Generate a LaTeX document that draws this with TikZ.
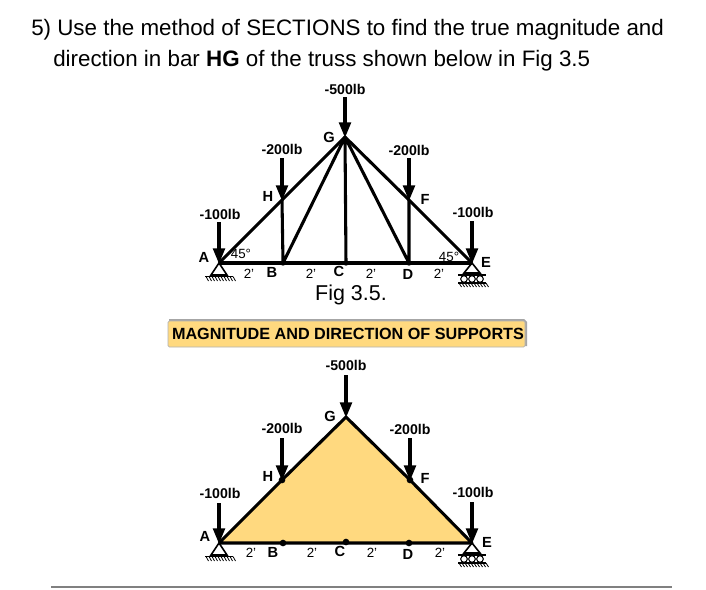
\documentclass[tikz,border=0pt]{standalone}
\usepackage{fontspec}
\setmainfont{Liberation Sans}
\usetikzlibrary{arrows.meta}
\definecolor{panel}{HTML}{FFD97F}
\tikzset{
  x=0.75pt,y=-0.75pt,
  bar/.style={line width=2.3pt,black,line join=round},
  load/.style={line width=3pt,black,-{Triangle[length=12pt,width=8.5pt]},shorten >=-1pt},
  loadlab/.style={font=\bfseries\fontsize{10.6}{12}\selectfont,inner sep=0pt},
  joint/.style={font=\bfseries\fontsize{11}{12}\selectfont,inner sep=0pt},
  dim/.style={font=\fontsize{10}{11}\selectfont,inner sep=0pt},
  pin/.style={circle,fill=black,inner sep=0pt,minimum size=5pt},
  title/.style={font=\fontsize{16.77}{20}\selectfont,inner sep=0pt,anchor=base west},
  sup/.style={line width=1.2pt,black},
  hatchline/.style={line width=0.6pt,black},
  pics/fixedsup/.style={code={
    \draw[sup] (0,0) -- (-8,12) -- (8,12) -- cycle;
    \draw[line width=1.2pt] (-14,13.5) -- (14,13.5);
    \foreach \i in {-13,-10,...,14} \draw[hatchline] (\i,13.5) -- (\i+2.5,18);
  }},
  pics/rollersup/.style={code={
    \draw[sup] (0,0) -- (-8,10) -- (8,10) -- cycle;
    \draw[line width=1.2pt] (-14,12) -- (14,12);
    \foreach \i in {-8,0,8} \draw[line width=.8pt] (\i,16) circle (3.3);
    \draw[line width=1.2pt] (-14,20) -- (14,20);
    \foreach \i in {-13,-10,...,14} \draw[hatchline] (\i,20) -- (\i+2.5,24);
  }}
}
\begin{document}
\begin{tikzpicture}
\useasboundingbox (0,0) rectangle (706,589);
\fill[white] (0,0) rectangle (706,589);
% title
\node[title] (t1) at (31,36) {5) Use the method of SECTIONS to find the true magnitude and};
\node[title] (t2) at (53,66) {direction in bar \textbf{HG} of the truss shown below in Fig 3.5};
% upper truss
\coordinate (A) at (219,263);
\coordinate (E) at (472,263);
\node[pin,minimum size=4pt] (B) at (283,263) {};
\node[pin,minimum size=4pt] (C) at (346,263) {};
\node[pin,minimum size=4pt] (D) at (409,263) {};
\coordinate (G) at (345,137);
\coordinate (H) at (282,200);
\coordinate (F) at (409,200);
\draw[bar] (A) -- (B.center) -- (C.center) -- (D.center) -- (E);
\draw[bar] (A) -- (H) -- (G) -- (F) -- (E);
\draw[bar] (H) -- (B.center) -- (G) -- (C.center) (G) -- (D.center) -- (F);
\pic at (A) {fixedsup};
\pic at (E) {rollersup};
\coordinate (l5) at (345,97);
\coordinate (l2a) at (282,158);
\coordinate (l2b) at (409,158);
\coordinate (l1a) at (219,222);
\coordinate (l1b) at (472,221);
\draw[load] (l5) -- (G);
\draw[load] (l2a) -- (H);
\draw[load] (l2b) -- (F);
\draw[load] (l1a) -- (A);
\draw[load] (l1b) -- (E);
\node[loadlab] (n5) at (345,89) {-500lb};
\node[loadlab] (n2a) at (282,149) {-200lb};
\node[loadlab] (n2b) at (409,150) {-200lb};
\node[loadlab] (n1a) at (220,214) {-100lb};
\node[loadlab] (n1b) at (473,212) {-100lb};
\node[joint] (jA) at (204,257) {A};
\node[joint] (jB) at (272,272) {B};
\node[joint] (jC) at (339,271) {C};
\node[joint] (jD) at (408,274) {D};
\node[joint] (jE) at (486,262) {E};
\node[joint] (jG) at (329,137) {G};
\node[joint] (jH) at (268,196) {H};
\node[joint] (jF) at (425,199) {F};
\node[dim] (d1) at (249,274) {2'};
\node[dim] (d2) at (311,274) {2'};
\node[dim] (d3) at (371,274) {2'};
\node[dim] (d4) at (439,274) {2'};
\node[dim] (a1) at (241,254) {45°};
\node[dim] (a2) at (449,257) {45°};
\node[inner sep=0pt,font=\fontsize{16.1}{18}\selectfont] (fig) at (351,295) {Fig 3.5.};
% banner
\fill[gray!70] (169,319) -- (524,319) -- (527,322) -- (527,346) -- (170,346) -- cycle;
\draw[fill=panel,draw=gray!60,line width=.6pt,rounded corners=1pt] (168,321) rectangle (525,347);
\node[inner sep=0pt,font=\bfseries\fontsize{12.15}{14}\selectfont] (ban) at (348,334) {MAGNITUDE AND DIRECTION OF SUPPORTS};
% lower truss
\coordinate (A2) at (219,543);
\coordinate (E2) at (472,543);
\coordinate (G2) at (346,417);
\coordinate (H2) at (282,480);
\coordinate (F2) at (410,480);
\fill[panel] (A2) -- (H2) -- (G2) -- (F2) -- (E2) -- cycle;
\draw[bar] (A2) -- (H2) -- (G2) -- (F2) -- (E2) -- (A2);
\node[pin] (B2) at (283,543) {};
\node[pin] (C2) at (346,542) {};
\node[pin] (D2) at (409,543) {};
\node[pin] (H2p) at (H2) {};
\node[pin] (F2p) at (F2) {};
\pic at (A2) {fixedsup};
\pic at (E2) {rollersup};
\coordinate (m5) at (346,375);
\coordinate (m2a) at (282,438);
\coordinate (m2b) at (410,438);
\coordinate (m1a) at (219,503);
\coordinate (m1b) at (472,502);
\draw[load] (m5) -- (G2);
\draw[load] (m2a) -- (H2);
\draw[load] (m2b) -- (F2);
\draw[load] (m1a) -- (A2);
\draw[load] (m1b) -- (E2);
\node[loadlab] (o5) at (346,365) {-500lb};
\node[loadlab] (o2a) at (282,428) {-200lb};
\node[loadlab] (o2b) at (410,429) {-200lb};
\node[loadlab] (o1a) at (220,493) {-100lb};
\node[loadlab] (o1b) at (473,492) {-100lb};
\node[joint] (kA) at (205,536) {A};
\node[joint] (kB) at (273,552) {B};
\node[joint] (kC) at (340,551) {C};
\node[joint] (kD) at (408,554) {D};
\node[joint] (kE) at (487,542) {E};
\node[joint] (kG) at (330,416) {G};
\node[joint] (kH) at (268,476) {H};
\node[joint] (kF) at (425,478) {F};
\node[dim] (e1) at (251,553) {2'};
\node[dim] (e2) at (312,553) {2'};
\node[dim] (e3) at (372,553) {2'};
\node[dim] (e4) at (440,553) {2'};
% rule
\coordinate (r1) at (51,587);
\coordinate (r2) at (672,587);
\draw[gray,line width=.9pt] (r1) -- (r2);
\end{tikzpicture}
\end{document}
